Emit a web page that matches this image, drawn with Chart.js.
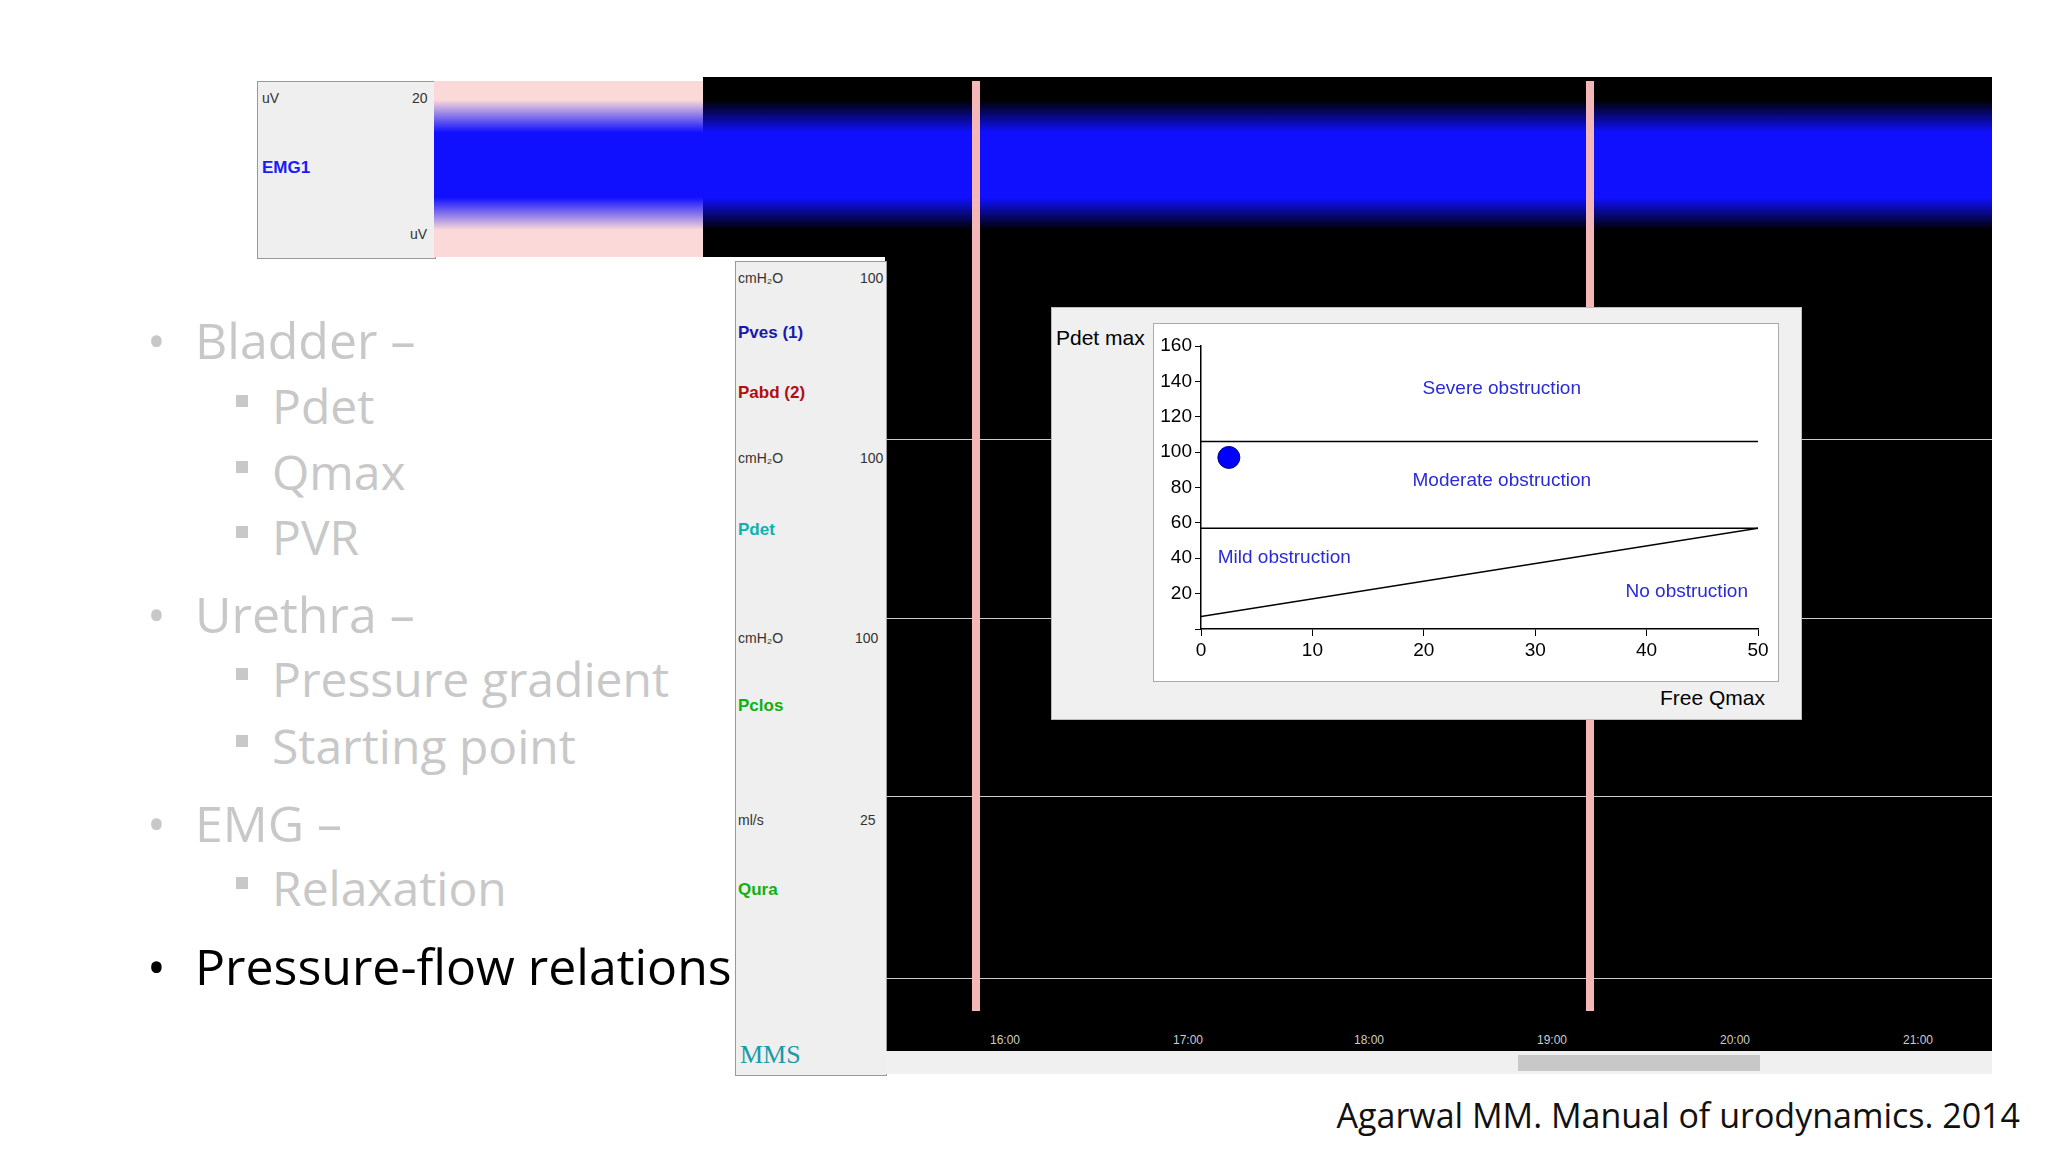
<!DOCTYPE html>
<html>
<head>
<meta charset="utf-8">
<script src="https://cdn.jsdelivr.net/npm/chart.js@4/dist/chart.umd.min.js"></script>
<style>
  body { margin: 0; width: 2048px; height: 1152px; background: #fff; position: relative; overflow: hidden; font-family: "Liberation Sans", Arial, sans-serif; }
  .abs { position: absolute; }
  .bul { position: absolute; color: #c8c8c8; font-size: 50px; white-space: nowrap; font-family: "Open Sans", "Liberation Sans", sans-serif; }
  .bul.sub { font-size: 48px; }
  .dot { position: absolute; left: -48px; }
  .sq { position: absolute; left: -36px; top: 22px; width: 12px; height: 12px; background: #c8c8c8; }
  .lbl { position: absolute; font-family: "Liberation Sans Narrow", "Liberation Sans", sans-serif; font-size: 17px; font-weight: bold; }
  .small { position: absolute; font-family: "Liberation Sans Narrow", "Liberation Sans", sans-serif; font-size: 14px; color: #333; }
  #emgband { position: absolute; left: 434px; top: 100px; width: 1558px; height: 130px;
    background: linear-gradient(to bottom, transparent 0%, #1010ff 25%, #1010ff 75%, transparent 100%); }
</style>
</head>
<body>
<!-- bullets -->
<div class="bul" style="left:195px;top:306px"><span class="dot">•</span>Bladder –</div>
<div class="bul sub" style="left:272px;top:373px"><span class="sq"></span>Pdet</div>
<div class="bul sub" style="left:272px;top:439px"><span class="sq"></span>Qmax</div>
<div class="bul sub" style="left:272px;top:504px"><span class="sq"></span>PVR</div>
<div class="bul" style="left:195px;top:580px"><span class="dot">•</span>Urethra –</div>
<div class="bul sub" style="left:272px;top:646px"><span class="sq"></span>Pressure gradient</div>
<div class="bul sub" style="left:272px;top:713px"><span class="sq"></span>Starting point</div>
<div class="bul" style="left:195px;top:789px"><span class="dot">•</span>EMG –</div>
<div class="bul sub" style="left:272px;top:855px"><span class="sq"></span>Relaxation</div>
<div class="bul" style="left:195px;top:932px;color:#000"><span class="dot">•</span>Pressure-flow relations -</div>
<div class="abs" style="right:28px;top:1092px;font-size:34px;font-family:'Open Sans','Liberation Sans',sans-serif;color:#111">Agarwal MM. Manual of urodynamics. 2014</div>

<!-- EMG strip -->
<div class="abs" style="left:257px;top:81px;width:177px;height:176px;background:#efefef;border:1px solid #999"></div>
<div class="abs" style="left:434px;top:81px;width:269px;height:176px;background:#fbd9d9"></div>
<div class="abs" style="left:703px;top:77px;width:1289px;height:180px;background:#000"></div>
<div id="emgband"></div>
<div class="small" style="left:262px;top:90px">uV</div>
<div class="small" style="left:412px;top:90px">20</div>
<div class="small" style="left:410px;top:226px">uV</div>
<div class="lbl" style="left:262px;top:158px;color:#1a1aff">EMG1</div>

<!-- lower traces panel -->
<div class="abs" style="left:885px;top:257px;width:1107px;height:794px;background:#000"></div>
<div class="abs" style="left:735px;top:261px;width:150px;height:813px;background:#efefef;border:1px solid #999"></div>
<div class="abs" style="left:885px;top:439px;width:1107px;height:1px;background:#ccc"></div>
<div class="abs" style="left:885px;top:618px;width:1107px;height:1px;background:#ccc"></div>
<div class="abs" style="left:885px;top:796px;width:1107px;height:1px;background:#ccc"></div>
<div class="abs" style="left:885px;top:978px;width:1107px;height:1px;background:#ccc"></div>
<div class="abs" style="left:972px;top:81px;width:8px;height:930px;background:#f4b6b6"></div>
<div class="abs" style="left:1586px;top:81px;width:8px;height:930px;background:#f4b6b6"></div>
<div class="abs" style="left:885px;top:1051px;width:1107px;height:23px;background:#f0f0f0"></div>
<div class="abs" style="left:1518px;top:1055px;width:242px;height:16px;background:#c8c8c8"></div>
<div class="small" style="left:738px;top:270px">cmH₂O</div><div class="small" style="left:860px;top:270px">100</div>
<div class="lbl" style="left:738px;top:323px;color:#1a1aaa">Pves (1)</div>
<div class="lbl" style="left:738px;top:383px;color:#b01010">Pabd (2)</div>
<div class="small" style="left:738px;top:450px">cmH₂O</div><div class="small" style="left:860px;top:450px">100</div>
<div class="lbl" style="left:738px;top:520px;color:#10b0b0">Pdet</div>
<div class="small" style="left:738px;top:630px">cmH₂O</div><div class="small" style="left:855px;top:630px">100</div>
<div class="lbl" style="left:738px;top:696px;color:#10b010">Pclos</div>
<div class="small" style="left:738px;top:812px">ml/s</div><div class="small" style="left:860px;top:812px">25</div>
<div class="lbl" style="left:738px;top:880px;color:#10b010">Qura</div>
<div class="abs" style="left:885px;top:1033px;width:1107px;color:#ccc;font-size:12px;font-family:'Liberation Sans Narrow',sans-serif">
  <span style="position:absolute;left:105px">16:00</span><span style="position:absolute;left:288px">17:00</span>
  <span style="position:absolute;left:469px">18:00</span><span style="position:absolute;left:652px">19:00</span>
  <span style="position:absolute;left:835px">20:00</span><span style="position:absolute;left:1018px">21:00</span></div>
<div class="abs" style="left:740px;top:1040px;color:#1a9aaa;font-size:26px;font-family:'Liberation Serif',serif">MMS</div>

<!-- nomogram popup -->
<div class="abs" style="left:1051px;top:307px;width:749px;height:411px;background:#f0f0f0;border:1px solid #bbb"></div>
<div class="abs" style="left:1153px;top:323px;width:624px;height:357px;background:#fff;border:1px solid #aaa"></div>
<div class="abs" style="left:1056px;top:326px;font-size:21px;font-family:'Liberation Sans Narrow','Liberation Sans',sans-serif">Pdet max</div>
<div class="abs" style="left:1660px;top:686px;font-size:21px;font-family:'Liberation Sans Narrow','Liberation Sans',sans-serif">Free Qmax</div>
<div class="abs" style="left:1154px;top:324px;width:624px;height:357px"><canvas id="nomo"></canvas></div>

<script>
const severeLine = [[0, 106], [50, 106]];
const moderateLine = [[0, 57], [50, 57]];
const mildLine = [[0, 7], [50, 57]];
const patientPoint = [[2.5, 97]];
const zoneLabels = ["Severe obstruction", "Moderate obstruction", "Mild obstruction", "No obstruction"];
const zonePos = [[27, 136, "center"], [27, 84, "center"], [1.5, 40, "left"], [50, 21, "right"]];

const pts = arr => arr.map(([x, y]) => ({ x, y }));
const font = "'Liberation Sans Narrow', 'Liberation Sans', sans-serif";

const zoneText = {
  id: "zoneText",
  afterDatasetsDraw(chart) {
    const { ctx, scales: { x, y } } = chart;
    ctx.save();
    ctx.fillStyle = "#2a2ad8";
    ctx.font = "19px " + font;
    ctx.textBaseline = "middle";
    zoneLabels.forEach((t, i) => {
      const [px, py, al] = zonePos[i];
      ctx.textAlign = al;
      ctx.fillText(t, x.getPixelForValue(px) + (al === "right" ? -10 : 0), y.getPixelForValue(py));
    });
    ctx.restore();
  }
};

const lineDs = (d) => ({ type: "line", data: pts(d), borderColor: "#000", borderWidth: 1.5, pointRadius: 0, fill: false });

new Chart(document.getElementById("nomo"), {
  type: "scatter",
  data: {
    datasets: [
      lineDs(severeLine), lineDs(moderateLine), lineDs(mildLine),
      { data: pts(patientPoint), backgroundColor: "#0000ff", borderColor: "#000080", borderWidth: 1, pointRadius: 11 }
    ]
  },
  options: {
    responsive: true,
    maintainAspectRatio: false,
    animation: false,
    layout: { padding: { top: 22, right: 20 } },
    plugins: { legend: { display: false }, tooltip: { enabled: false } },
    scales: {
      x: {
        min: 0, max: 50,
        ticks: { stepSize: 10, color: "#000", font: { family: font, size: 19 } },
        grid: { drawOnChartArea: false, drawTicks: true, tickLength: 7, color: "#000" },
        border: { color: "#000", width: 1.5 },
        afterFit: s => { s.height = 52; }
      },
      y: {
        min: 0, max: 160,
        ticks: { stepSize: 20, color: "#000", font: { family: font, size: 19 },
          callback: v => v === 0 ? "" : v },
        grid: { drawOnChartArea: false, drawTicks: true, tickLength: 6, color: "#000" },
        border: { color: "#000", width: 1.5 },
        afterFit: s => { s.width = 47; }
      }
    }
  },
  plugins: [zoneText]
});
</script>
</body>
</html>
